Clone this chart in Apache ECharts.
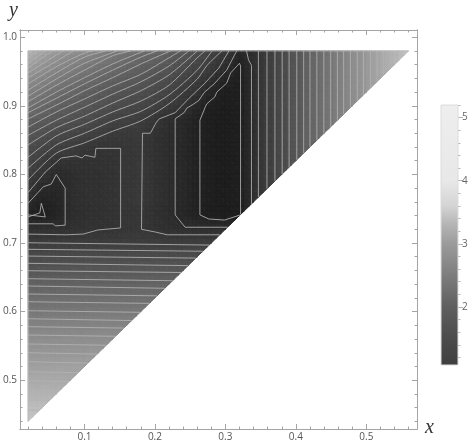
<!DOCTYPE html>
<html><head><meta charset="utf-8">
<style>html,body{margin:0;padding:0;background:#fff}#c{width:474px;height:444px}</style>
<script src="https://cdn.jsdelivr.net/npm/echarts@6/dist/echarts.min.js"></script>
</head><body><div id="c"></div>
<script>
// ---- tick values ----
const xMajor=[0.1,0.2,0.3,0.4,0.5];
const xMinor=[0.02,0.04,0.06,0.08,0.12,0.14,0.16,0.18,0.22,0.24,0.26,0.28,0.32,0.34,0.36,0.38,0.42,0.44,0.46,0.48,0.52,0.54,0.56];
const yMajor=[0.5,0.6,0.7,0.8,0.9,1.0];
const yMinor=[0.44,0.46,0.48,0.52,0.54,0.56,0.58,0.62,0.64,0.66,0.68,0.72,0.74,0.76,0.78,0.82,0.84,0.86,0.88,0.92,0.94,0.96,0.98];
const barMajor=[2,3,4,5];
const barMinor=[1.2,1.4,1.6,1.8,2.2,2.4,2.6,2.8,3.2,3.4,3.6,3.8,4.2,4.4,4.6,4.8,5.2];

// ---- surface values: first row y=0.98, last y=0.44; each row starts at x=0.02, step 0.02 ----
const rowY=[0.98,0.96,0.94,0.92,0.90,0.88,0.86,0.84,0.82,0.80,0.78,0.76,0.74,0.72,0.70,0.68,0.66,0.64,0.62,0.60,0.58,0.56,0.54,0.52,0.50,0.48,0.46,0.44];
const colX=[0.02,0.04,0.06,0.08,0.10,0.12,0.14,0.16,0.18,0.20,0.22,0.24,0.26,0.28,0.30,0.32,0.34,0.36,0.38,0.40,0.42,0.44,0.46,0.48,0.50,0.52,0.54,0.56];
const zRows=[
[3.37,3.13,2.97,2.85,2.74,2.60,2.47,2.38,2.30,2.20,2.09,1.98,1.80,1.60,1.47,1.28,1.34,1.51,1.70,1.89,2.10,2.30,2.51,2.73,2.94,3.16,3.36,3.57],
[3.07,2.90,2.74,2.60,2.48,2.38,2.29,2.18,2.09,2.02,1.92,1.77,1.65,1.51,1.35,1.20,1.34,1.51,1.70,1.89,2.10,2.30,2.51,2.73,2.94,3.16,3.36],
[2.79,2.65,2.51,2.39,2.29,2.19,2.09,2.02,1.95,1.84,1.77,1.64,1.51,1.38,1.24,1.19,1.34,1.51,1.70,1.89,2.10,2.30,2.51,2.73,2.94,3.16],
[2.57,2.43,2.30,2.19,2.08,2.00,1.92,1.85,1.79,1.71,1.63,1.49,1.40,1.26,1.17,1.18,1.34,1.51,1.70,1.89,2.10,2.30,2.51,2.73,2.94],
[2.34,2.21,2.09,2.00,1.92,1.84,1.77,1.71,1.65,1.57,1.48,1.40,1.27,1.19,1.15,1.18,1.34,1.51,1.70,1.89,2.10,2.30,2.51,2.73],
[2.09,2.00,1.91,1.83,1.76,1.68,1.61,1.57,1.51,1.43,1.35,1.29,1.22,1.17,1.14,1.18,1.34,1.51,1.70,1.89,2.10,2.30,2.51],
[1.92,1.82,1.73,1.66,1.60,1.54,1.48,1.46,1.46,1.38,1.33,1.28,1.22,1.17,1.14,1.18,1.34,1.51,1.70,1.89,2.10,2.30],
[1.78,1.67,1.58,1.52,1.46,1.41,1.41,1.44,1.45,1.38,1.33,1.28,1.22,1.17,1.14,1.18,1.34,1.51,1.70,1.89,2.10],
[1.67,1.53,1.40,1.39,1.38,1.38,1.39,1.43,1.45,1.38,1.33,1.28,1.22,1.17,1.14,1.18,1.34,1.51,1.70,1.89],
[1.55,1.40,1.30,1.33,1.37,1.37,1.39,1.43,1.45,1.38,1.33,1.28,1.22,1.17,1.14,1.18,1.34,1.51,1.70],
[1.43,1.29,1.27,1.33,1.37,1.37,1.39,1.43,1.45,1.38,1.33,1.28,1.22,1.17,1.14,1.18,1.34,1.51],
[1.31,1.21,1.25,1.33,1.36,1.37,1.39,1.43,1.45,1.38,1.33,1.28,1.22,1.17,1.14,1.18,1.34],
[1.20,1.19,1.24,1.32,1.36,1.37,1.39,1.42,1.43,1.37,1.33,1.27,1.22,1.17,1.15,1.17],
[1.35,1.36,1.36,1.37,1.38,1.38,1.39,1.42,1.43,1.38,1.35,1.34,1.33,1.33,1.34],
[1.50,1.50,1.50,1.50,1.50,1.50,1.50,1.51,1.51,1.51,1.51,1.52,1.52,1.52],
[1.71,1.71,1.71,1.71,1.72,1.72,1.72,1.73,1.73,1.73,1.74,1.74,1.74],
[1.90,1.90,1.90,1.91,1.91,1.91,1.92,1.92,1.92,1.93,1.93,1.93],
[2.08,2.08,2.08,2.09,2.09,2.09,2.10,2.10,2.10,2.11,2.11],
[2.25,2.25,2.25,2.26,2.26,2.26,2.27,2.27,2.27,2.28],
[2.41,2.41,2.42,2.42,2.42,2.43,2.43,2.43,2.44],
[2.58,2.58,2.59,2.59,2.59,2.60,2.60,2.60],
[2.75,2.75,2.75,2.76,2.76,2.76,2.77],
[2.90,2.90,2.91,2.91,2.91,2.92],
[3.05,3.05,3.05,3.06,3.06],
[3.19,3.19,3.20,3.20],
[3.33,3.33,3.34],
[3.48,3.48],
[3.60]
];

// ---- contour lines ----
const horizontalLines=[[0.7004,0.697],[0.6908,0.688],[0.681,0.678],[0.6704,0.667],[0.6596,0.657],[0.648,0.645],[0.6373,0.634],[0.6257,0.623],[0.6144,0.612],[0.6013,0.599],[0.5896,0.587],[0.578,0.576],[0.5659,0.564],[0.5528,0.551],[0.5401,0.538],[0.527,0.525],[0.5124,0.511],[0.4993,0.498],[0.4847,0.484],[0.4711,0.471],[0.4566,0.456]];
const verticalLines=[0.3468,0.359,0.3703,0.3806,0.3904,0.4013,0.4111,0.42,0.4298,0.4397,0.4495,0.4589,0.4678,0.4776,0.4871,0.4959,0.5058,0.5152,0.5241,0.5339,0.5434];
const smoothCurves=[
[[.02,.792],[.06,.831],[.10,.846],[.14,.863],[.18,.878],[.22,.903],[.26,.939],[.274,.959],[.295,.98]],
[[.02,.809],[.06,.843],[.10,.860],[.14,.878],[.18,.892],[.22,.916],[.26,.952],[.281,.98]],
[[.02,.825],[.06,.856],[.10,.873],[.14,.891],[.18,.907],[.22,.930],[.26,.970],[.271,.98]],
[[.02,.843],[.06,.868],[.10,.885],[.14,.904],[.18,.922],[.22,.945],[.26,.98]],
[[.02,.857],[.06,.879],[.10,.898],[.14,.917],[.18,.935],[.22,.958],[.248,.98]],
[[.02,.869],[.06,.891],[.10,.910],[.14,.929],[.18,.946],[.22,.970],[.236,.98]],
[[.02,.881],[.06,.901],[.10,.922],[.14,.941],[.18,.961],[.222,.98]],
[[.02,.890],[.06,.911],[.10,.932],[.14,.952],[.18,.971],[.203,.98]],
[[.02,.897],[.06,.920],[.10,.941],[.14,.961],[.185,.98]],
[[.02,.906],[.06,.930],[.10,.952],[.14,.973],[.166,.98]],
[[.02,.914],[.06,.939],[.10,.962],[.147,.98]],
[[.02,.923],[.06,.948],[.10,.971],[.130,.98]],
[[.02,.932],[.06,.957],[.10,.977],[.112,.98]],
[[.02,.941],[.06,.965],[.084,.98]],
[[.02,.948],[.06,.974],[.07,.98]],
[[.02,.955],[.04,.97],[.055,.98]],
[[.02,.962],[.045,.98]],
[[.02,.970],[.035,.98]],
[[.02,.976],[.027,.98]]
];
const jaggedLines=[
// level 1.4 right branch
[[.305,.98],[.2906,.955],[.2709,.933],[.2484,.911],[.2287,.890],[.2062,.881],[.202,.876],[.1935,.860],[.1823,.860],[.1809,.720],[.2006,.716],[.2174,.712],[.292,.712]],
// level 1.4 left lobe
[[.02,.7736],[.0444,.8035],[.067,.824],[.088,.827],[.0965,.824],[.1007,.828],[.1148,.825],[.1162,.838],[.1513,.838],[.1513,.722],[.119,.719],[.098,.713],[.074,.712],[.02,.713]],
// level 1.3 right
[[.316,.98],[.313,.974],[.3018,.952],[.285,.933],[.2695,.919],[.2625,.908],[.2526,.901],[.2456,.897],[.2413,.890],[.2287,.881],[.2287,.741],[.2428,.723],[.3032,.723]],
[[.33,.98],[.3328,.967],[.337,.959],[.337,.757]],
// level 1.3 left lobe
[[.02,.758],[.0416,.782],[.0529,.786],[.06,.80],[.0726,.78],[.0726,.726],[.0585,.725],[.0557,.728],[.02,.728]],
// level 1.2 right
[[.3208,.7408],[.299,.7335],[.2765,.735],[.2638,.741],[.2638,.879],[.2709,.897],[.2737,.903],[.285,.913],[.2878,.92],[.3018,.933],[.3075,.948],[.32,.962],[.3215,.958],[.3215,.7415]],
// level 1.2 small spike
[[.02,.741],[.0444,.738],[.0388,.758],[.0367,.744],[.02,.738]]
];
const outline=[[.02,.44],[.02,.98],[.56,.98]];

// ---- grey ramps: value, grey level ----
const surfaceRamp=[[1.1,26],[1.2,32],[1.3,42],[1.4,52],[1.5,60],[2,92],[2.5,125],[3,156],[3.6,196]];
const barRamp=[[1.08,62],[1.5,75],[2,95],[2.5,125],[3,155],[3.3,180],[3.6,212],[4,232],[5.2,238]];
function grey(ramp,z){
  let g=ramp[ramp.length-1][1];
  if(z<=ramp[0][0]) g=ramp[0][1];
  else for(let i=1;i<ramp.length;i++) if(z<=ramp[i][0]){
    const a=ramp[i-1],b=ramp[i]; g=a[1]+(b[1]-a[1])*(z-a[0])/(b[0]-a[0]); break;
  }
  g=Math.round(g); return `rgb(${g},${g},${g})`;
}

// triangles of the surface mesh, cut parallel to the hypotenuse
const triList=[];
for(let r=0;r<zRows.length-1;r++){
  const up=zRows[r], lo=zRows[r+1];
  for(let c=0;c<lo.length;c++){
    const A=[colX[c],rowY[r],up[c]], B=[colX[c+1],rowY[r],up[c+1]], C=[colX[c],rowY[r+1],lo[c]];
    if(c+1<lo.length){ const D=[colX[c+1],rowY[r+1],lo[c+1]]; triList.push([A,B,D]); triList.push([A,D,C]); }
    else triList.push([A,B,C]);
  }
}
const SUB=3;
function renderTri(params,api){
  const t=triList[params.dataIndex], kids=[];
  const P=(i,j)=>{
    const u=i/SUB,v=j/SUB,w=1-u-v;
    return [0,1,2].map(k=>t[0][k]*w+t[1][k]*u+t[2][k]*v);
  };
  const add=(a,b,c)=>{
    const z=(a[2]+b[2]+c[2])/3, col=grey(surfaceRamp,z);
    kids.push({type:'polygon',shape:{points:[a,b,c].map(p=>api.coord([p[0],p[1]]))},style:{fill:col,stroke:col,lineWidth:1,lineJoin:'round'},silent:true});
  };
  for(let i=0;i<SUB;i++) for(let j=0;j<SUB-i;j++){
    add(P(i,j),P(i+1,j),P(i,j+1));
    if(i+j<SUB-1) add(P(i+1,j),P(i+1,j+1),P(i,j+1));
  }
  return {type:'group',children:kids,silent:true};
}

const AX='#a4a4a4', TXT='#555';
const xMin=0.0086,xMax=0.5719,yMin=0.4289,yMax=1.0105;
const font='"Open Sans","Noto Sans",sans-serif';
function ax(pos,vals,len,label,min,max,grid){
  return {type:'value',position:pos,min,max,gridIndex:grid,scale:true,silent:true,splitLine:{show:false},
    axisLine:{show:true,onZero:false,lineStyle:{color:AX,width:1}},
    axisTick:{show:true,inside:true,length:len,customValues:vals,lineStyle:{color:AX,width:1}},
    axisLabel:label?{show:true,customValues:vals,margin:3,fontSize:10,color:TXT,fontFamily:font,hideOverlap:false,formatter:v=>v.toFixed(1)}
                   :{show:false,customValues:vals}};
}
const xAxes=[ax('bottom',xMajor,5,true,xMin,xMax,0),ax('bottom',xMinor,2.5,false,xMin,xMax,0),ax('top',xMajor,5,false,xMin,xMax,0),ax('top',xMinor,2.5,false,xMin,xMax,0),
  {type:'value',gridIndex:1,min:0,max:1,show:false}];
const yAxes=[ax('left',yMajor,5,true,yMin,yMax,0),ax('left',yMinor,2.5,false,yMin,yMax,0),ax('right',yMajor,5,false,yMin,yMax,0),ax('right',yMinor,2.5,false,yMin,yMax,0)];
const barAx=(vals,len,label)=>({type:'value',gridIndex:1,position:'right',min:1.08,max:5.2,scale:true,silent:true,splitLine:{show:false},
  axisLine:{show:false,onZero:false},
  axisTick:{show:true,inside:false,length:len,customValues:vals,lineStyle:{color:'#b4b4b4',width:1}},
  axisLabel:label?{show:true,customValues:vals,margin:4,fontSize:10,color:'#666',fontFamily:font,formatter:v=>String(v)}:{show:false,customValues:vals}});
yAxes.push(barAx(barMajor,5,true),barAx(barMinor,2.5,false));

const lineS=(pts,smooth)=>({type:'line',data:pts,smooth:smooth?0.25:false,symbol:'none',silent:true,animation:false,clip:false,z:5,
  lineStyle:{color:'rgba(178,178,178,0.85)',width:1}});
const series=[{type:'custom',coordinateSystem:'cartesian2d',xAxisIndex:0,yAxisIndex:0,data:triList.map((t,i)=>[t[0][0],t[0][1],i]),
  encode:{x:0,y:1},renderItem:renderTri,silent:true,animation:false,clip:false,z:2,progressive:0}];
horizontalLines.forEach(h=>series.push(lineS([[.02,h[0]],[h[1]-.42,h[1]]])));
verticalLines.forEach(x=>series.push(lineS([[x,.98],[x,x+.42]])));
smoothCurves.forEach(c=>series.push(lineS(c,true)));
jaggedLines.forEach(c=>series.push(lineS(c)));
series.push({type:'line',data:outline,symbol:'none',silent:true,animation:false,clip:false,z:6,lineStyle:{color:'#bcbcbc',width:0.8}});
// colour bar
series.push({type:'custom',coordinateSystem:'cartesian2d',xAxisIndex:4,yAxisIndex:4,data:[[0,1.08]],encode:{x:0,y:1},silent:true,animation:false,clip:false,
  renderItem:(p,api)=>{
    const a=api.coord([0,5.2]),b=api.coord([1,1.08]);
    const stops=barRamp.map(s=>({offset:1-(s[0]-1.08)/(5.2-1.08),color:grey(barRamp,s[0])})).reverse();
    return {type:'rect',shape:{x:a[0],y:a[1],width:b[0]-a[0],height:b[1]-a[1]},
      style:{fill:new echarts.graphic.LinearGradient(0,0,0,1,stops),stroke:'#dcdcdc',lineWidth:1}};
  }});

const chart=echarts.init(document.getElementById('c'),null,{renderer:'canvas',width:474,height:444});
chart.setOption({animation:false,backgroundColor:'#fff',tooltip:{show:false},
  grid:[{left:16.5,top:30,width:400.5,height:399,containLabel:false},{left:441,top:105,width:17,height:260}],
  xAxis:xAxes,yAxis:yAxes,series,
  graphic:[
    {type:'text',left:9,top:1,silent:true,style:{text:'y',font:'italic 20px "Liberation Serif",serif',fill:'#333'}},
    {type:'text',left:425,top:418,silent:true,style:{text:'x',font:'italic 20px "Liberation Serif",serif',fill:'#333'}}
  ]});
</script></body></html>
